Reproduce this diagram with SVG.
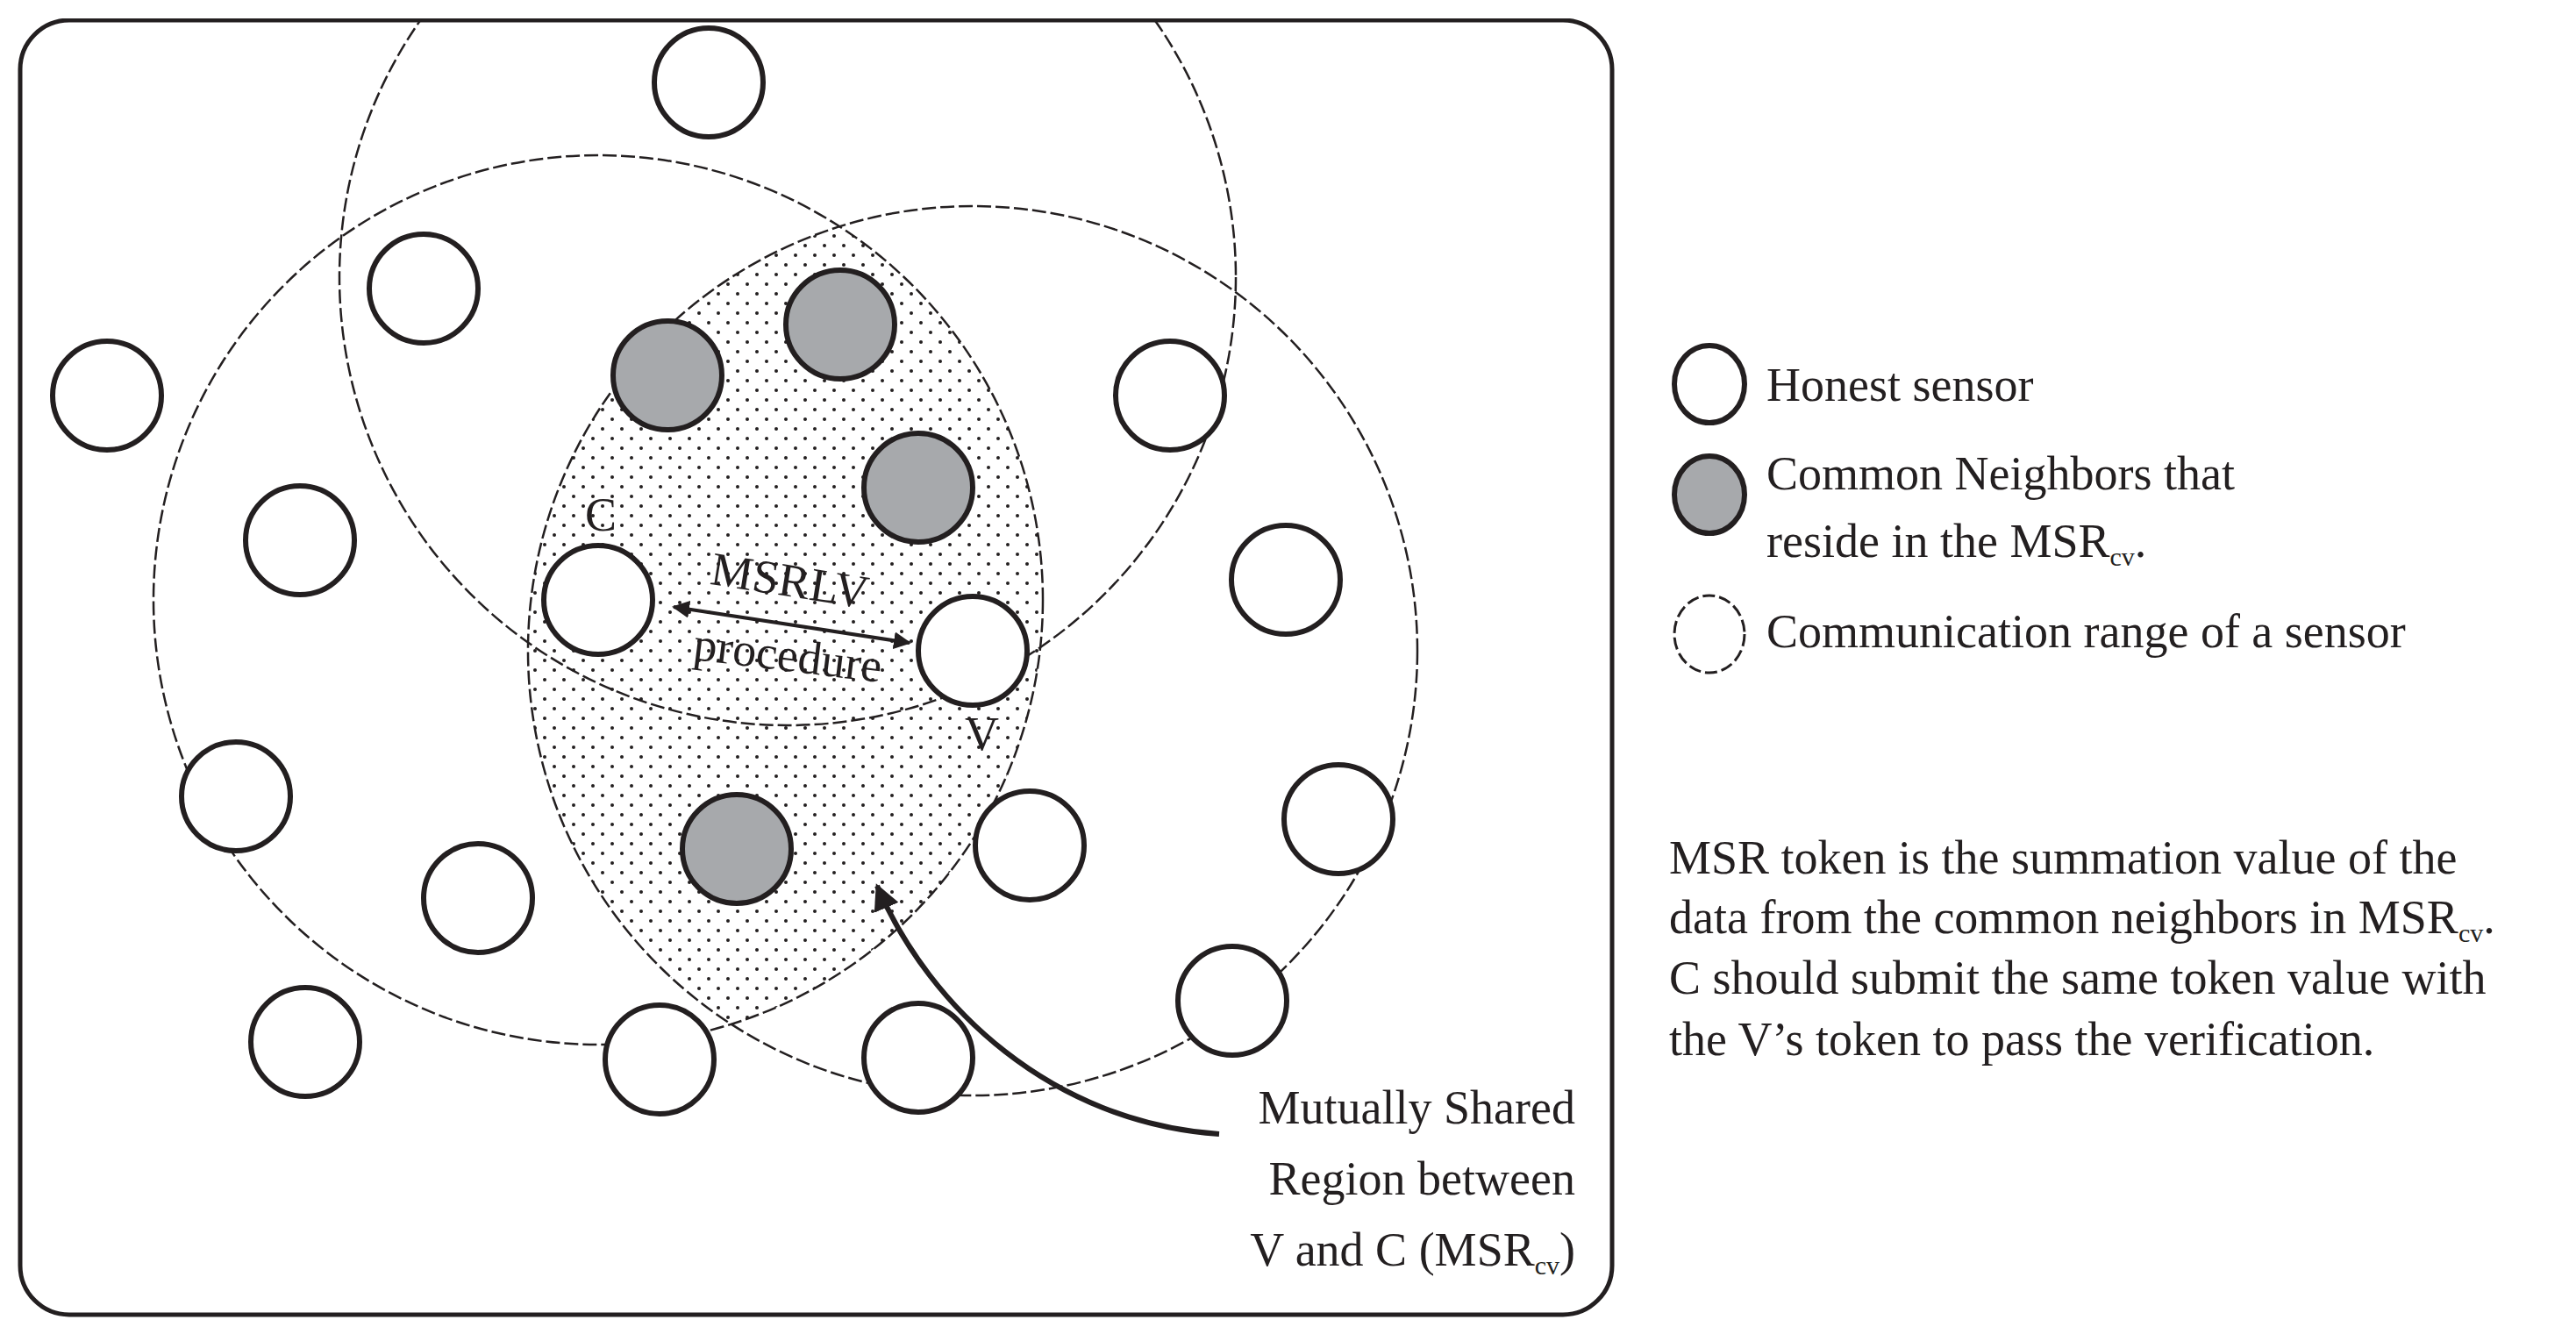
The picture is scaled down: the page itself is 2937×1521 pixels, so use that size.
<svg xmlns="http://www.w3.org/2000/svg" width="2937" height="1521" viewBox="0 0 2937 1521">
<style>
.s{fill:#fff;stroke:#231f20;stroke-width:6}
.g{fill:#a7a9ac;stroke:#231f20;stroke-width:6}
.r{fill:none;stroke:#231f20;stroke-width:2.5;stroke-dasharray:16 5}
text{font-family:"Liberation Serif",serif;fill:#231f20;font-size:54px}
</style>
<defs>
<pattern id="dots" width="22" height="22" patternUnits="userSpaceOnUse">
<circle cx="5" cy="5" r="2" fill="#231f20"/><circle cx="16" cy="16" r="2" fill="#231f20"/>
</pattern>
<clipPath id="cc"><circle cx="682" cy="684" r="507"/></clipPath>
<marker id="ah" viewBox="0 0 10 10" refX="9" refY="5" markerWidth="5" markerHeight="5" orient="auto-start-reverse"><path d="M0,0 L10,5 L0,10 z" fill="#231f20"/></marker>
</defs>
<rect x="23" y="23" width="1815" height="1476" rx="56" fill="#fff" stroke="#231f20" stroke-width="5"/>
<g id="msr"><circle cx="1109" cy="742" r="507" fill="url(#dots)" clip-path="url(#cc)"/></g>
<g id="ranges">
<circle class="r" cx="898" cy="316" r="511"/>
<circle class="r" cx="682" cy="684" r="507"/>
<circle class="r" cx="1109" cy="742" r="507"/>
</g>
<rect x="23" y="0" width="1815" height="21" fill="#fff"/>
<g id="sensors">
<circle class="s" cx="808" cy="94" r="62"/>
<circle class="s" cx="483" cy="329" r="62"/>
<circle class="s" cx="122" cy="451" r="62"/>
<circle class="s" cx="342" cy="616" r="62"/>
<circle class="s" cx="1334" cy="451" r="62"/>
<circle class="s" cx="1466" cy="661" r="62"/>
<g id="C"><circle class="s" cx="682" cy="684" r="62"/><text x="667" y="605" font-size="46">C</text></g>
<g id="V"><circle class="s" cx="1109" cy="742" r="62"/><text x="1100" y="855" font-size="46">V</text></g>
<circle class="s" cx="269" cy="908" r="62"/>
<circle class="s" cx="545" cy="1024" r="62"/>
<circle class="s" cx="1526" cy="934" r="62"/>
<circle class="s" cx="1174" cy="964" r="62"/>
<circle class="s" cx="348" cy="1188" r="62"/>
<circle class="s" cx="752" cy="1208" r="62"/>
<circle class="s" cx="1047" cy="1206" r="62"/>
<circle class="s" cx="1405" cy="1141" r="62"/>
<circle class="g" cx="761" cy="428" r="62"/>
<circle class="g" cx="958" cy="370" r="62"/>
<circle class="g" cx="1047" cy="556" r="62"/>
<circle class="g" cx="840" cy="968" r="62"/>
</g>
<g id="connectors" fill="none" stroke="#231f20">
<line x1="768" y1="692" x2="1037" y2="733" stroke-width="4" marker-start="url(#ah)" marker-end="url(#ah)"/>
<path d="M1390,1293 C1200,1280 1060,1150 1000,1010" stroke-width="6" marker-end="url(#ah)"/>
</g>
<text x="900" y="680" text-anchor="middle" transform="rotate(9 900 665)" font-size="52">MSRLV</text>
<text x="898" y="765" text-anchor="middle" transform="rotate(7 898 750)" font-size="52">procedure</text>
<g id="msrlabel" text-anchor="end">
<text x="1796" y="1281">Mutually Shared</text>
<text x="1796" y="1362">Region between</text>
<text x="1796" y="1443">V and C (MSR<tspan font-size="30" dy="10">cv</tspan><tspan dy="-10">)</tspan></text>
</g>
<g id="legend">
<ellipse class="s" cx="1949" cy="438" rx="40" ry="44"/>
<ellipse class="g" cx="1949" cy="564" rx="40" ry="44"/>
<ellipse cx="1949" cy="723" rx="40" ry="44" fill="none" stroke="#231f20" stroke-width="3" stroke-dasharray="14 5"/>
<text x="2014" y="457">Honest sensor</text>
<text x="2014" y="558">Common Neighbors that</text>
<text x="2014" y="635">reside in the MSR<tspan font-size="30" dy="10">cv</tspan><tspan dy="-10">.</tspan></text>
<text x="2014" y="738">Communication range of a sensor</text>
</g>
<g id="note">
<text x="1903" y="996">MSR token is the summation value of the</text>
<text x="1903" y="1064">data from the common neighbors in MSR<tspan font-size="30" dy="10">cv</tspan><tspan dy="-10">.</tspan></text>
<text x="1903" y="1133">C should submit the same token value with</text>
<text x="1903" y="1203">the V’s token to pass the verification.</text>
</g>
</svg>
